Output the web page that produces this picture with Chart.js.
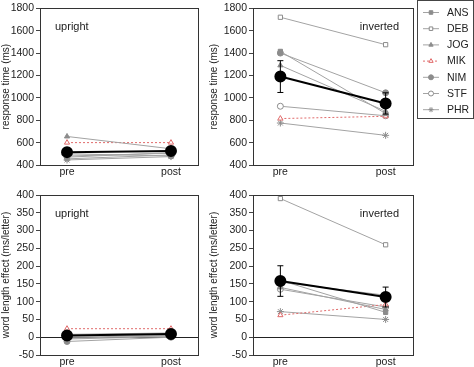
<!DOCTYPE html>
<html>
<head>
<meta charset="utf-8">
<script src="https://cdn.jsdelivr.net/npm/chart.js@4.4.0/dist/chart.umd.min.js"></script>
<style>
  html, body { margin: 0; padding: 0; background: #fff; }
  #wrap { position: relative; width: 474px; height: 367px; overflow: hidden; }
  canvas { position: absolute; }
</style>
</head>
<body>
<div id="wrap">
  <canvas id="rtUp" width="205" height="185" style="left:0;top:0"></canvas>
  <canvas id="rtInv" width="269" height="185" style="left:205px;top:0"></canvas>
  <canvas id="wlUp" width="205" height="182" style="left:0;top:185px"></canvas>
  <canvas id="wlInv" width="269" height="182" style="left:205px;top:185px"></canvas>
</div>
<script>
// ---- data ----
const subjects = ["ANS", "DEB", "JOG", "MIK", "NIM", "STF", "PHR"];
const phases = ["pre", "post"];

// response time (ms), [pre, post] per subject
const rtUpright = [[455, 490], [480, 505], [655, 545], [600, 600], [500, 480], [470, 510], [445, 475]];
const rtUprightMean = [515, 525];
const rtUprightErr = [20, 18];
const rtInverted = [[1415, 860], [1720, 1475], [1290, 880], [815, 835], [1400, 1045], [925, 840], [775, 665]];
const rtInvertedMean = [1190, 950];
const rtInvertedErr = [142, 95];

// word length effect (ms/letter)
const wlUpright = [[0, 5], [-5, 2], [8, 12], [24, 24], [-12, 0], [3, 8], [-3, 4]];
const wlUprightMean = [5, 9];
const wlUprightErr = [5, 5];
const wlInverted = [[160, 70], [390, 260], [140, 78], [62, 92], [155, 118], [135, 85], [72, 50]];
const wlInvertedMean = [158, 113];
const wlInvertedErr = [43, 28];

const rtTicks = { min: 400, max: 1800, step: 200 };
const wlTicks = { min: -50, max: 400, step: 50 };

// ---- styles ----
const grey = "#a3a3a3";
const markGrey = "#8c8c8c";
const red = "#e06a6a";
const markerStyles = ["rect", "rect", "triangle", "triangle", "circle", "circle", "star"];
const markerFilled = [true, false, true, false, true, false, true];

Chart.defaults.font.family = "'Liberation Sans', Arial, Helvetica, sans-serif";
Chart.defaults.font.size = 10.5;
Chart.defaults.color = "#222";

function subjectSets(vals) {
  return subjects.map((name, i) => {
    const isRed = name === "MIK";
    const stroke = isRed ? red : markGrey;
    return {
      label: name,
      data: vals[i].map((v, j) => ({ x: j, y: v })),
      borderColor: isRed ? red : grey,
      borderDash: isRed ? [2, 2] : [],
      borderWidth: 1,
      pointStyle: markerStyles[i],
      pointRadius: markerStyles[i] === "star" ? 3.5 : 3,
      pointBorderColor: stroke,
      pointBackgroundColor: markerFilled[i] ? stroke : "#fff",
      pointBorderWidth: 1,
      order: 1
    };
  });
}

function meanSet(mean) {
  return {
    label: "mean",
    data: mean.map((v, j) => ({ x: j, y: v })),
    borderColor: "#000",
    borderWidth: 2,
    pointStyle: "circle",
    pointRadius: 5,
    pointBackgroundColor: "#000",
    pointBorderColor: "#000",
    order: 0
  };
}

// box, panel label, error bars
const panelDecor = {
  id: "panelDecor",
  afterDatasetsDraw(chart, args, opts) {
    const { ctx, scales: { x, y } } = chart;
    ctx.save();
    ctx.strokeStyle = "#000";
    ctx.lineWidth = 1;
    opts.mean.forEach((m, j) => {
      const px = x.getPixelForValue(j);
      const top = y.getPixelForValue(m + opts.err[j]);
      const bot = y.getPixelForValue(m - opts.err[j]);
      ctx.beginPath();
      ctx.moveTo(px, top); ctx.lineTo(px, bot);
      ctx.moveTo(px - 3, top); ctx.lineTo(px + 3, top);
      ctx.moveTo(px - 3, bot); ctx.lineTo(px + 3, bot);
      ctx.stroke();
    });
    ctx.restore();
  },
  afterDraw(chart, args, opts) {
    const { ctx, chartArea: a } = chart;
    ctx.save();
    ctx.strokeStyle = "#333";
    ctx.lineWidth = 1;
    ctx.strokeRect(Math.round(a.left) + 0.5, Math.round(a.top) + 0.5,
      Math.round(a.right - a.left), Math.round(a.bottom - a.top));
    ctx.fillStyle = "#222";
    ctx.font = "11px 'Liberation Sans', Arial, sans-serif";
    ctx.textBaseline = "middle";
    ctx.textAlign = opts.labelRight ? "right" : "left";
    const lx = opts.labelRight ? a.right - 14 : a.left + 15;
    ctx.fillText(opts.label, lx, a.top + 19);
    ctx.restore();
  }
};

// legend box at the right of the top-right panel
const sideLegend = {
  id: "sideLegend",
  afterDraw(chart) {
    const ctx = chart.ctx;
    const bx = 212, by = 0.5, bw = 56, bh = 118;
    ctx.save();
    ctx.strokeStyle = "#444";
    ctx.lineWidth = 1;
    ctx.strokeRect(bx + 0.5, by, bw, bh);
    chart.data.datasets.filter(d => d.order === 1).forEach((d, i) => {
      const yy = 12.5 + i * 16.2;
      ctx.strokeStyle = d.borderColor;
      ctx.setLineDash(d.borderDash);
      ctx.beginPath();
      ctx.moveTo(bx + 6, yy); ctx.lineTo(bx + 22, yy);
      ctx.stroke();
      ctx.setLineDash([]);
      ctx.strokeStyle = d.pointBorderColor;
      ctx.fillStyle = d.pointBackgroundColor;
      Chart.helpers.drawPoint(ctx, { pointStyle: d.pointStyle, radius: 2.5, borderWidth: 1, rotation: 0 }, bx + 14, yy);
      ctx.fillStyle = "#222";
      ctx.font = "10.5px 'Liberation Sans', Arial, sans-serif";
      ctx.textBaseline = "middle";
      ctx.textAlign = "left";
      ctx.fillText(d.label, bx + 30, yy + 0.5);
    });
    ctx.restore();
  }
};

function makePanel(id, cfg) {
  const plugins = [panelDecor];
  if (cfg.legend) plugins.push(sideLegend);
  return new Chart(document.getElementById(id), {
    type: "line",
    data: { datasets: [meanSet(cfg.mean), ...subjectSets(cfg.values)] },
    plugins: plugins,
    options: {
      responsive: false,
      animation: false,
      events: [],
      layout: { padding: { top: cfg.padTop, right: cfg.padRight, left: 0, bottom: 0 } },
      plugins: {
        legend: { display: false },
        tooltip: { enabled: false },
        panelDecor: { label: cfg.label, labelRight: cfg.labelRight, mean: cfg.mean, err: cfg.err }
      },
      scales: {
        x: {
          type: "linear",
          min: -0.26,
          max: 1.26,
          afterBuildTicks: s => { s.ticks = [{ value: 0 }, { value: 1 }]; },
          afterFit: s => { s.height = cfg.xHeight; },
          grid: { display: false, drawTicks: false },
          border: { display: false },
          ticks: { padding: cfg.xPad, callback: v => phases[v], font: { size: 10.5 } }
        },
        y: {
          min: cfg.ticks.min,
          max: cfg.ticks.max,
          afterFit: s => { s.width = cfg.yWidth; },
          ticks: { stepSize: cfg.ticks.step, padding: 2, font: { size: 10.5 }, callback: v => String(v) },
          border: { display: false },
          grid: {
            drawOnChartArea: cfg.zeroLine,
            color: c => (c.tick && c.tick.value === 0) ? "#222" : "rgba(0,0,0,0)",
            tickColor: "#444",
            tickLength: 4
          },
          title: {
            display: true,
            text: cfg.yTitle,
            font: { size: 10 },
            padding: { top: cfg.titlePad, bottom: 0 }
          }
        }
      }
    }
  });
}

makePanel("rtUp", {
  values: rtUpright, mean: rtUprightMean, err: rtUprightErr, ticks: rtTicks,
  label: "upright", labelRight: false, yTitle: "response time (ms)",
  padTop: 5, padRight: 5, xHeight: 20, xPad: 1, yWidth: 40, titlePad: 0, zeroLine: false
});
makePanel("rtInv", {
  values: rtInverted, mean: rtInvertedMean, err: rtInvertedErr, ticks: rtTicks,
  label: "inverted", labelRight: true, yTitle: "response time (ms)", legend: true,
  padTop: 5, padRight: 61, xHeight: 20, xPad: 1, yWidth: 48, titlePad: 3, zeroLine: false
});
makePanel("wlUp", {
  values: wlUpright, mean: wlUprightMean, err: wlUprightErr, ticks: wlTicks,
  label: "upright", labelRight: false, yTitle: "word length effect (ms/letter)",
  padTop: 10, padRight: 5, xHeight: 12, xPad: 1, yWidth: 40, titlePad: 0, zeroLine: true
});
makePanel("wlInv", {
  values: wlInverted, mean: wlInvertedMean, err: wlInvertedErr, ticks: wlTicks,
  label: "inverted", labelRight: true, yTitle: "word length effect (ms/letter)",
  padTop: 10, padRight: 61, xHeight: 12, xPad: 1, yWidth: 48, titlePad: 3, zeroLine: true
});
</script>
</body>
</html>
